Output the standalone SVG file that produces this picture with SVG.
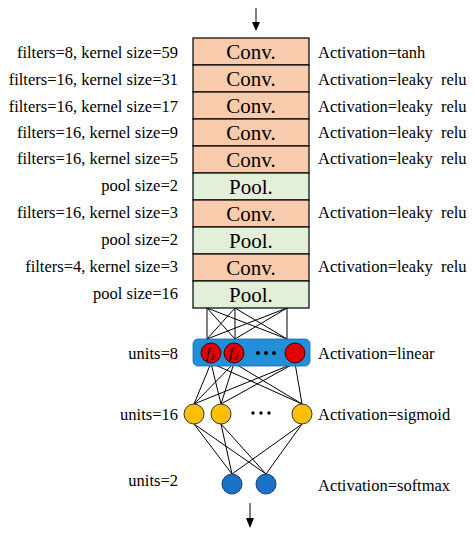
<svg xmlns="http://www.w3.org/2000/svg" width="474" height="538" viewBox="0 0 474 538">
<defs>
<style>
text{font-family:"Liberation Serif","Times New Roman",serif;fill:#000}
.lbl{font-size:16.5px}
.l{text-anchor:end}
.blk{font-size:21px;text-anchor:middle}
.conv{fill:#F8CBAD;stroke:#000;stroke-width:1.2}
.pool{fill:#E2F0D9;stroke:#000;stroke-width:1.2}
.ln{stroke:#000;stroke-width:1;fill:none}
.red{fill:#E00000;stroke:#400;stroke-width:1}
.yel{fill:#FFC000;stroke:#333;stroke-width:1}
.blu{fill:#1872C8;stroke:#1a3c6a;stroke-width:1}
.dot{fill:#000}
</style>
</defs>
<g id="connectors">
<line class="ln" x1="256" y1="8" x2="256" y2="24" stroke-width="1.8"/>
<path d="M252,22 L256,31 L260,22 z" fill="#000"/>
<line class="ln" x1="250" y1="503" x2="250" y2="520" stroke-width="1.8"/>
<path d="M246,518 L250,528 L254,518 z" fill="#000"/>
<g>
<line class="ln" x1="207" y1="308" x2="207" y2="339"/><line class="ln" x1="207" y1="308" x2="235" y2="339"/><line class="ln" x1="207" y1="308" x2="287" y2="339"/>
<line class="ln" x1="235" y1="308" x2="207" y2="339"/><line class="ln" x1="235" y1="308" x2="235" y2="339"/><line class="ln" x1="235" y1="308" x2="287" y2="339"/>
<line class="ln" x1="287" y1="308" x2="207" y2="339"/><line class="ln" x1="287" y1="308" x2="235" y2="339"/><line class="ln" x1="287" y1="308" x2="287" y2="339"/>
</g>
<g>
<line class="ln" x1="211" y1="363" x2="194" y2="404"/><line class="ln" x1="211" y1="363" x2="221" y2="404"/><line class="ln" x1="211" y1="363" x2="302" y2="404"/>
<line class="ln" x1="234" y1="363" x2="194" y2="404"/><line class="ln" x1="234" y1="363" x2="221" y2="404"/><line class="ln" x1="234" y1="363" x2="302" y2="404"/>
<line class="ln" x1="295" y1="363" x2="194" y2="404"/><line class="ln" x1="295" y1="363" x2="221" y2="404"/><line class="ln" x1="295" y1="363" x2="302" y2="404"/>
</g>
<g>
<line class="ln" x1="194" y1="424" x2="232" y2="474"/><line class="ln" x1="194" y1="424" x2="266" y2="474"/>
<line class="ln" x1="221" y1="424" x2="232" y2="474"/><line class="ln" x1="221" y1="424" x2="266" y2="474"/>
<line class="ln" x1="302" y1="424" x2="232" y2="474"/><line class="ln" x1="302" y1="424" x2="266" y2="474"/>
</g>
</g>
<g id="conv1"><rect class="conv" x="193" y="38" width="116" height="27"/><text class="blk" x="251" y="59">Conv.</text><text class="lbl l" x="178" y="58">filters=8, kernel size=59</text><text class="lbl" x="318" y="58">Activation=tanh</text></g>
<g id="conv2"><rect class="conv" x="193" y="65" width="116" height="27"/><text class="blk" x="251" y="86">Conv.</text><text class="lbl l" x="178" y="85">filters=16, kernel size=31</text><text class="lbl" x="318" y="85" xml:space="preserve">Activation=leaky  relu</text></g>
<g id="conv3"><rect class="conv" x="193" y="92" width="116" height="27"/><text class="blk" x="251" y="113">Conv.</text><text class="lbl l" x="178" y="112">filters=16, kernel size=17</text><text class="lbl" x="318" y="112" xml:space="preserve">Activation=leaky  relu</text></g>
<g id="conv4"><rect class="conv" x="193" y="119" width="116" height="27"/><text class="blk" x="251" y="140">Conv.</text><text class="lbl l" x="178" y="138">filters=16, kernel size=9</text><text class="lbl" x="318" y="138" xml:space="preserve">Activation=leaky  relu</text></g>
<g id="conv5"><rect class="conv" x="193" y="146" width="116" height="27"/><text class="blk" x="251" y="167">Conv.</text><text class="lbl l" x="178" y="164">filters=16, kernel size=5</text><text class="lbl" x="318" y="164" xml:space="preserve">Activation=leaky  relu</text></g>
<g id="pool1"><rect class="pool" x="193" y="173" width="116" height="27"/><text class="blk" x="251" y="194">Pool.</text><text class="lbl l" x="178" y="191">pool size=2</text></g>
<g id="conv6"><rect class="conv" x="193" y="200" width="116" height="27"/><text class="blk" x="251" y="221">Conv.</text><text class="lbl l" x="178" y="218">filters=16, kernel size=3</text><text class="lbl" x="318" y="218" xml:space="preserve">Activation=leaky  relu</text></g>
<g id="pool2"><rect class="pool" x="193" y="227" width="116" height="27"/><text class="blk" x="251" y="248">Pool.</text><text class="lbl l" x="178" y="245">pool size=2</text></g>
<g id="conv7"><rect class="conv" x="193" y="254" width="116" height="27"/><text class="blk" x="251" y="275">Conv.</text><text class="lbl l" x="178" y="272">filters=4, kernel size=3</text><text class="lbl" x="318" y="272" xml:space="preserve">Activation=leaky  relu</text></g>
<g id="pool3"><rect class="pool" x="193" y="281" width="116" height="27"/><text class="blk" x="251" y="302">Pool.</text><text class="lbl l" x="178" y="299">pool size=16</text></g>
<g id="dense1">
<rect x="193" y="339" width="117" height="27" rx="5" fill="#2290D8" stroke="#1a6aa8" stroke-width="0.8"/>
<circle class="red" cx="211" cy="353" r="10"/><circle class="red" cx="234" cy="353" r="10"/><circle class="red" cx="295" cy="353" r="10"/>
<text x="206" y="358" font-size="15" font-style="italic">f<tspan font-size="10" dy="2">1</tspan></text>
<text x="229" y="358" font-size="15" font-style="italic">f<tspan font-size="10" dy="2">2</tspan></text>
<circle class="dot" cx="258" cy="353" r="2"/><circle class="dot" cx="266" cy="353" r="2"/><circle class="dot" cx="274" cy="353" r="2"/>
<text class="lbl l" x="178" y="359">units=8</text><text class="lbl" x="318" y="359">Activation=linear</text>
</g>
<g id="dense2">
<circle class="yel" cx="194" cy="414" r="10"/><circle class="yel" cx="221" cy="414" r="10"/><circle class="yel" cx="302" cy="414" r="10"/>
<circle class="dot" cx="253" cy="413" r="1.7"/><circle class="dot" cx="261" cy="413" r="1.7"/><circle class="dot" cx="269" cy="413" r="1.7"/>
<text class="lbl l" x="178" y="420">units=16</text><text class="lbl" x="318" y="420">Activation=sigmoid</text>
</g>
<g id="dense3">
<circle class="blu" cx="232" cy="484" r="10"/><circle class="blu" cx="266" cy="484" r="10"/>
<text class="lbl l" x="178" y="486">units=2</text><text class="lbl" x="318" y="491">Activation=softmax</text>
</g>
</svg>
